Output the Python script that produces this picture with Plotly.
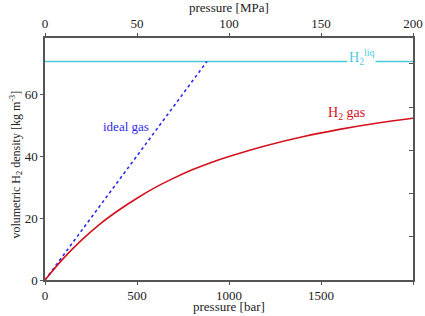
import plotly.graph_objects as go

# Data
h2_pressure_bar = [0, 100, 200, 300, 400, 500, 600, 700, 800, 900, 1000, 1200, 1400, 1600, 1800, 2000]
h2_density = [0, 7.0, 13.0, 18.2, 22.6, 26.5, 30.0, 33.0, 35.7, 38.0, 40.0, 43.5, 46.4, 48.8, 50.8, 52.4]
ideal_pressure_bar = [0, 880]
ideal_density = [0, 70.8]
liq_pressure_bar = [0, 2000]
liq_density = [70.8, 70.8]
bar_ticks = [0, 500, 1000, 1500, 2000]
mpa_ticks = [0, 50, 100, 150, 200]
left_ticks = [0, 20, 40, 60]
right_ticks = [0, 14, 28, 42, 56, 70]

FONT = "Liberation Serif, Times New Roman, serif"
AX = "#555555"
RED = "#d4111e"
BLUE = "#2b2bea"
CYAN = "#4cc9dc"
TXT = "#222222"

fig = go.Figure()
fig.add_trace(go.Scatter(x=liq_pressure_bar, y=liq_density, mode="lines",
                         line=dict(color=CYAN, width=1.5), showlegend=False))
fig.add_trace(go.Scatter(x=ideal_pressure_bar, y=ideal_density, mode="lines",
                         line=dict(color=BLUE, width=1.6, dash="3px,3px"), showlegend=False))
fig.add_trace(go.Scatter(x=h2_pressure_bar, y=h2_density, mode="lines", line_shape="spline",
                         line=dict(color=RED, width=1.6), showlegend=False))
# invisible trace for the secondary axes
fig.add_trace(go.Scatter(x=[0, 200], y=[0, 70], xaxis="x2", yaxis="y2", mode="markers",
                         marker=dict(opacity=0), showlegend=False, hoverinfo="skip"))

yr = [0, 78.4]
tf = dict(family=FONT, size=13, color=TXT)
fig.update_layout(
    width=425, height=316,
    margin=dict(l=45, r=12, t=38, b=36),
    paper_bgcolor="white", plot_bgcolor="white",
    font=dict(family=FONT, size=13, color=TXT),
    xaxis=dict(range=[0, 2000], tickvals=bar_ticks, ticks="outside", ticklen=3,
               tickcolor=AX, showline=True, linecolor=AX, linewidth=1.5, showgrid=False,
               zeroline=False, automargin=False, tickfont=tf),
    xaxis2=dict(range=[0, 200], tickvals=mpa_ticks, overlaying="x", side="top",
                ticks="outside", ticklen=3, tickcolor=AX, showline=True, linecolor=AX,
                linewidth=1.5, showgrid=False, zeroline=False, automargin=False, tickfont=tf),
    yaxis=dict(range=yr, tickvals=left_ticks, ticks="outside", ticklen=3, tickcolor=AX,
               showline=True, linecolor=AX, linewidth=1.5, showgrid=False, zeroline=False,
               automargin=False, tickfont=tf),
    yaxis2=dict(range=yr, tickvals=right_ticks, overlaying="y", side="right",
                ticks="inside", ticklen=4, tickcolor=AX, showline=True, linecolor=AX,
                linewidth=1.5, showgrid=False, zeroline=False, showticklabels=False,
                automargin=False),
)

# axis titles
fig.add_annotation(xref="paper", yref="paper", x=0.5, y=-0.108, yanchor="middle",
                   text="pressure [bar]", showarrow=False, font=tf)
fig.add_annotation(xref="paper", yref="paper", x=0.5, y=1.124, yanchor="middle",
                   text="pressure [MPa]", showarrow=False, font=tf)
fig.add_annotation(xref="paper", yref="paper", x=-0.08, y=0.475, xanchor="center",
                   yanchor="middle", textangle=-90,
                   text="volumetric H<sub>2</sub> density [kg m<sup>-3</sup>]",
                   showarrow=False, font=dict(family=FONT, size=12, color=TXT))

# series labels
fig.add_annotation(x=440, y=49.8, text="ideal gas", showarrow=False,
                   font=dict(color=BLUE, size=13, family=FONT))
fig.add_annotation(x=1640, y=53.8, text="H<sub>2</sub> gas", showarrow=False,
                   font=dict(color=RED, size=14, family=FONT))
fig.add_annotation(x=1720, y=72.2, text="H<sub>2</sub><sup>liq</sup>", showarrow=False,
                   bgcolor="white", borderpad=1,
                   font=dict(color=CYAN, size=14, family=FONT))

fig.write_html("out.html", config={"displayModeBar": False},
               post_script="document.body.style.margin='0';document.body.style.overflow='hidden';")
